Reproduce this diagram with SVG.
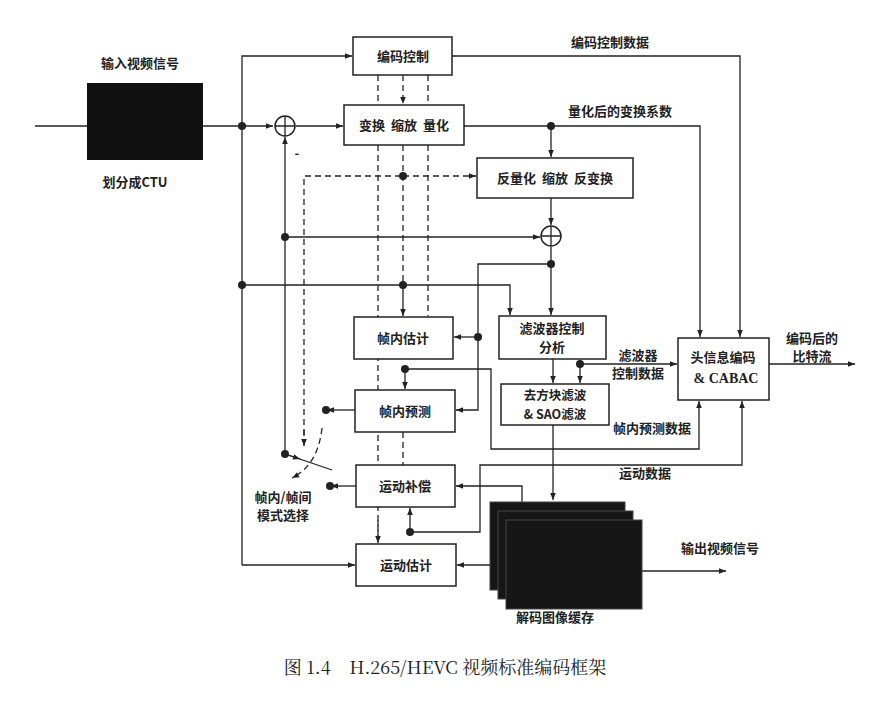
<svg xmlns="http://www.w3.org/2000/svg" width="887" height="705" viewBox="0 0 887 705">
<defs>
<marker id="a" viewBox="0 0 10 10" refX="10" refY="5" markerWidth="9" markerHeight="7" orient="auto" markerUnits="userSpaceOnUse"><path d="M0,1 L10,5 L0,9 Z" fill="#222"/></marker>
</defs>
<style>
text{font-family:"Noto Sans CJK SC","Liberation Sans",sans-serif;font-size:13px;font-weight:bold;fill:#222;text-anchor:middle}
.b{fill:#fff;stroke:#222;stroke-width:1.5}
.l{fill:none;stroke:#222;stroke-width:1.3}
.d{fill:none;stroke:#222;stroke-width:1.3;stroke-dasharray:6,4}
.dot{fill:#222}
.img{fill:#161616;stroke:#444}
</style>
<rect width="887" height="705" fill="#fff"/>
<g id="connectors">
<path class="l" d="M35,126 H273" marker-end="url(#a)"/>
<path class="l" d="M296,126 H343" marker-end="url(#a)"/>
<path class="l" d="M242,565 V56 H352" marker-end="url(#a)"/>
<path class="l" d="M452,56 H740 V337" marker-end="url(#a)"/>
<path class="l" d="M464,126 H700 V337" marker-end="url(#a)"/>
<path class="l" d="M551,126 V157" marker-end="url(#a)"/>
<path class="l" d="M551,198 V225" marker-end="url(#a)"/>
<path class="l" d="M285,454 V137" marker-end="url(#a)"/>
<path class="l" d="M285,237 H540" marker-end="url(#a)"/>
<path class="l" d="M551,247 V315" marker-end="url(#a)"/>
<path class="l" d="M551,264 H478 V410 H456" marker-end="url(#a)"/>
<path class="l" d="M478,337 H454" marker-end="url(#a)"/>
<path class="l" d="M242,285 H510 V315" marker-end="url(#a)"/>
<path class="l" d="M403,285 V316" marker-end="url(#a)"/>
<path class="d" d="M378,75 V105 M428,75 V105 M378,145 V543 M428,145 V316 M403,145 V285"/>
<path class="d" d="M403,75 V104" marker-end="url(#a)"/>
<path class="d" d="M378,520 V543" marker-end="url(#a)"/>
<path class="d" d="M403,176 H476" marker-end="url(#a)"/>
<path class="d" d="M304,445 V176 H403"/>
<path class="d" d="M304,430 V446" marker-end="url(#a)"/>
<path class="d" d="M403,432 V465"/>
<path class="l" d="M553,359 V383" marker-end="url(#a)"/>
<path class="l" d="M580,364 V383" marker-end="url(#a)"/>
<path class="l" d="M580,364 H677" marker-end="url(#a)"/>
<path class="l" d="M405,369 V389" marker-end="url(#a)"/>
<path class="l" d="M405,369 H491 V449 H699 V401" marker-end="url(#a)"/>
<path class="l" d="M410,532 V508" marker-end="url(#a)"/>
<path class="l" d="M410,532 H480 V465 H742 V401" marker-end="url(#a)"/>
<path class="l" d="M553,425 V500" marker-end="url(#a)"/>
<path class="l" d="M522,502 V486 H456" marker-end="url(#a)"/>
<path class="l" d="M490,565 H457" marker-end="url(#a)"/>
<path class="l" d="M242,565 H355" marker-end="url(#a)"/>
<path class="l" d="M642,571 H726" marker-end="url(#a)"/>
<path class="l" d="M769,364 H855" marker-end="url(#a)"/>
<path class="l" d="M355,410 H327" marker-end="url(#a)"/>
<path class="l" d="M356,486 H331" marker-end="url(#a)"/>
<path class="l" d="M285,454 L332,470"/>
<path class="l" d="M285,454 L300,459" marker-end="url(#a)"/>
<path class="d" d="M322,428 Q318,465 292,478" marker-end="url(#a)"/>
<circle class="dot" cx="242" cy="126" r="4"/>
<circle class="dot" cx="551" cy="126" r="4"/>
<circle class="dot" cx="403" cy="176" r="4"/>
<circle class="dot" cx="285" cy="237" r="4"/>
<circle class="dot" cx="551" cy="264" r="4"/>
<circle class="dot" cx="242" cy="285" r="4"/>
<circle class="dot" cx="403" cy="285" r="4"/>
<circle class="dot" cx="478" cy="337" r="4"/>
<circle class="dot" cx="580" cy="364" r="4"/>
<circle class="dot" cx="405" cy="369" r="4"/>
<circle class="dot" cx="410" cy="532" r="4"/>
<circle class="dot" cx="326" cy="410" r="4"/>
<circle class="dot" cx="330" cy="486" r="4"/>
<circle class="dot" cx="285" cy="454" r="4"/>
</g>
<g id="sum1"><circle cx="285" cy="126" r="10" fill="#fff" stroke="#222" stroke-width="1.5"/><path class="l" d="M275,126 H295 M285,116 V136"/></g>
<g id="sum2"><circle cx="551" cy="236" r="10" fill="#fff" stroke="#222" stroke-width="1.5"/><path class="l" d="M541,236 H561 M551,226 V246"/></g>
<g id="input"><rect x="87" y="83" width="116" height="77" fill="#111"/><text x="140" y="68">输入视频信号</text><text x="135" y="187">划分成CTU</text></g>
<g id="ctrl"><rect class="b" x="353" y="37" width="99" height="38"/><text x="403" y="61">编码控制</text></g>
<g id="tq"><rect class="b" x="344" y="105" width="120" height="40"/><text x="404" y="130" xml:space="preserve">变换  缩放  量化</text></g>
<g id="iq"><rect class="b" x="477" y="158" width="156" height="40"/><text x="555" y="183" xml:space="preserve">反量化  缩放  反变换</text></g>
<g id="ie"><rect class="b" x="354" y="317" width="99" height="42"/><text x="403" y="343">帧内估计</text></g>
<g id="ip"><rect class="b" x="355" y="390" width="100" height="42"/><text x="405" y="416">帧内预测</text></g>
<g id="mc"><rect class="b" x="356" y="465" width="99" height="42"/><text x="405" y="491">运动补偿</text></g>
<g id="me"><rect class="b" x="356" y="544" width="100" height="42"/><text x="406" y="570">运动估计</text></g>
<g id="fc"><rect class="b" x="499" y="316" width="107" height="43"/><text x="552" y="333">滤波器控制</text><text x="552" y="352">分析</text></g>
<g id="df"><rect class="b" x="501" y="384" width="108" height="41"/><text x="555" y="400" style="font-size:12.5px">去方块滤波</text><text x="555" y="419" style="font-size:12.5px">&amp; SAO滤波</text></g>
<g id="cabac"><rect class="b" x="678" y="338" width="91" height="62"/><text x="723" y="362">头信息编码</text><text x="726" y="383" style="font-family:'Liberation Serif',serif;font-size:14px">&amp; CABAC</text></g>
<g id="dpb"><rect class="img" x="490" y="502" width="135" height="88"/><rect class="img" x="498" y="511" width="135" height="88"/><rect class="img" x="506" y="520" width="136" height="89"/><text x="555" y="622">解码图像缓存</text></g>
<g id="labels">
<text x="610" y="47">编码控制数据</text>
<text x="620" y="116">量化后的变换系数</text>
<text x="297" y="158">-</text>
<text x="638" y="360">滤波器</text>
<text x="638" y="378">控制数据</text>
<text x="652" y="433">帧内预测数据</text>
<text x="645" y="478">运动数据</text>
<text x="720" y="553">输出视频信号</text>
<text x="812" y="343">编码后的</text>
<text x="812" y="361">比特流</text>
<text x="283" y="502">帧内/帧间</text>
<text x="283" y="520">模式选择</text>
<text x="445" y="674" xml:space="preserve" style="font-family:'Noto Serif CJK SC','Liberation Serif','Noto Sans CJK SC',serif;font-size:18px;font-weight:normal">图 1.4    H.265/HEVC 视频标准编码框架</text>
</g>
</svg>
